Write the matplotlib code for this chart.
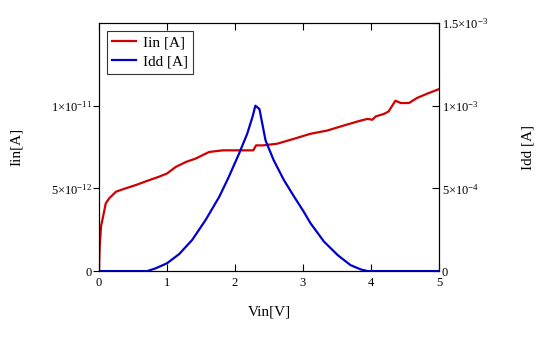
import matplotlib.pyplot as plt

plt.rcParams['font.family'] = 'Liberation Serif'
plt.rcParams['mathtext.fontset'] = 'custom'
plt.rcParams['mathtext.rm'] = 'Liberation Serif'
plt.rcParams['mathtext.it'] = 'Liberation Serif:italic'

# input current vs input voltage
vin_a = [0.0, 0.01, 0.03, 0.05, 0.1, 0.15, 0.25, 0.39, 0.54, 0.74, 0.88, 1.0,
         1.13, 1.28, 1.42, 1.62, 1.82, 2.02, 2.27, 2.31, 2.41, 2.62, 2.87,
         3.11, 3.36, 3.6, 3.85, 3.95, 4.02, 4.07, 4.19, 4.26, 4.36, 4.44,
         4.56, 4.68, 4.83, 5.0]
iin = [0.0, 1.5e-12, 2.7e-12, 3.1e-12, 4.1e-12, 4.4e-12, 4.8e-12, 5.0e-12,
       5.2e-12, 5.5e-12, 5.7e-12, 5.9e-12, 6.3e-12, 6.6e-12, 6.8e-12,
       7.2e-12, 7.3e-12, 7.3e-12, 7.3e-12, 7.6e-12, 7.6e-12, 7.7e-12,
       8.0e-12, 8.3e-12, 8.5e-12, 8.8e-12, 9.1e-12, 9.2e-12, 9.15e-12,
       9.35e-12, 9.5e-12, 9.65e-12, 1.03e-11, 1.016e-11, 1.016e-11,
       1.047e-11, 1.073e-11, 1.10e-11]

# supply current vs input voltage
vin_b = [0.0, 0.71, 0.83, 1.0, 1.18, 1.37, 1.57, 1.77, 1.91, 2.06, 2.18,
         2.26, 2.3, 2.36, 2.45, 2.57, 2.72, 2.87, 3.01, 3.11, 3.31, 3.51,
         3.7, 3.85, 3.95, 5.0]
idd = [0.0, 0.0, 0.16e-4, 0.47e-4, 1.03e-4, 1.88e-4, 3.1e-4, 4.5e-4,
       5.7e-4, 7.1e-4, 8.3e-4, 9.35e-4, 1.0e-3, 0.98e-3, 7.9e-4, 6.7e-4,
       5.5e-4, 4.5e-4, 3.6e-4, 2.9e-4, 1.78e-4, 0.97e-4, 0.36e-4, 0.1e-4,
       0.0, 0.0]

x_ticks = [0, 1, 2, 3, 4, 5]
iin_ticks = [0, 5e-12, 1e-11]
iin_labels = ['0', r'$5{\times}10^{-12}$', r'$1{\times}10^{-11}$']
idd_ticks = [0, 5e-4, 1e-3, 1.5e-3]
idd_labels = ['0', r'$5{\times}10^{-4}$', r'$1{\times}10^{-3}$',
              r'$1.5{\times}10^{-3}$']

fig = plt.figure(figsize=(5.5, 3.38), dpi=100)
ax = fig.add_axes([0.18, 0.198, 0.618, 0.734])
ax2 = ax.twinx()

l1, = ax.plot(vin_a, iin, color='#d00000', lw=1.6, label='Iin [A]')
l2, = ax2.plot(vin_b, idd, color='#0000cc', lw=1.6, label='Idd [A]')

ax.set_xlim(0, 5)
ax.set_ylim(0, 1.5e-11)
ax2.set_ylim(0, 1.5e-3)

ax.set_xticks(x_ticks)
ax.set_yticks(iin_ticks)
ax.set_yticklabels(iin_labels)
ax2.set_yticks(idd_ticks)
ax2.set_yticklabels(idd_labels)

ax.tick_params(axis='x', direction='in', top=True, length=5, labelsize=9,
               pad=4)
ax.tick_params(axis='y', direction='out', length=4, labelsize=9, pad=1)
ax2.tick_params(axis='y', direction='in', length=5, labelsize=9, pad=2)

ax.set_xlabel('Vin[V]', fontsize=11, labelpad=12)
ax.set_ylabel('Iin[A]', fontsize=11, labelpad=20)
ax2.set_ylabel('Idd [A]', fontsize=11, labelpad=24)

leg = ax2.legend(handles=[l1, l2], loc='upper left', fontsize=11,
                 frameon=True, fancybox=False, edgecolor='black',
                 handlelength=1.6, handletextpad=0.4, borderpad=0.35,
                 labelspacing=0.35, borderaxespad=0.5)
leg.get_frame().set_linewidth(0.8)

fig.savefig('out.png', dpi=100)
